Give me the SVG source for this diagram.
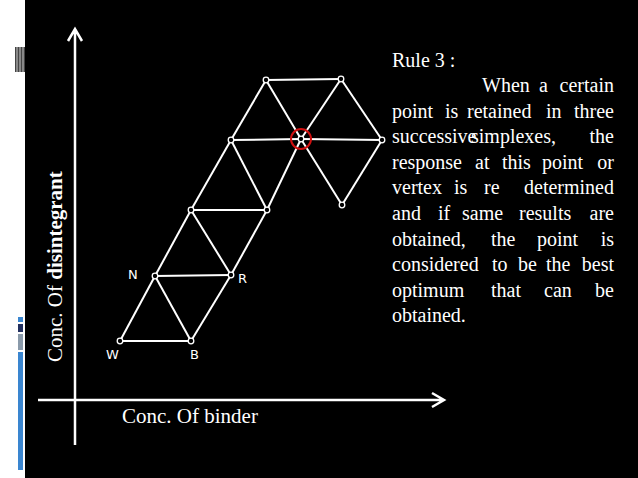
<svg xmlns="http://www.w3.org/2000/svg" width="638" height="478" viewBox="0 0 638 478">
<style>
.ax{stroke:#fff;stroke-width:2.5;fill:none}
.e{stroke:#fff;stroke-width:2}
.v{fill:#000;stroke:#fff;stroke-width:1.3}
.lb{font-family:"DejaVu Sans",sans-serif;font-size:13px;fill:#fff}
.t{font-family:"Liberation Serif",serif;font-size:20px;fill:#fff}
.r{text-anchor:end}
</style>
<rect width="638" height="478" fill="#000"/>
<rect width="25" height="478" fill="#fff"/>
<g id="deco">
<rect x="15" y="47" width="10" height="25" fill="#444"/>
<line x1="17" y1="47" x2="17" y2="72" stroke="#ccc"/><line x1="20" y1="47" x2="20" y2="72" stroke="#ccc"/><line x1="23" y1="47" x2="23" y2="72" stroke="#ccc"/>
<rect x="18" y="317" width="5" height="5" fill="#3a86d0"/>
<rect x="18" y="324" width="5" height="8" fill="#223060"/>
<rect x="18" y="334" width="5" height="16" fill="#8a9aaa"/>
<rect x="18" y="352" width="5" height="118" fill="#3a86d0"/>
</g>
<g id="axes">
<path class="ax" d="M75 445V30M68 41L75 29L82 41"/>
<path class="ax" d="M38 400H443M432 393L444 400L432 407"/>
</g>
<g id="connectors">
<g class="e">
<line x1="120" y1="341" x2="191" y2="341"/><line x1="120" y1="341" x2="155" y2="276"/><line x1="191" y1="341" x2="155" y2="276"/>
<line x1="191" y1="341" x2="231" y2="275"/><line x1="155" y1="276" x2="231" y2="275"/>
<line x1="155" y1="276" x2="191" y2="210"/><line x1="231" y1="275" x2="191" y2="210"/><line x1="231" y1="275" x2="267" y2="210"/>
<line x1="191" y1="210" x2="267" y2="210"/><line x1="191" y1="210" x2="231" y2="140"/><line x1="267" y1="210" x2="231" y2="140"/>
<line x1="267" y1="210" x2="301" y2="139"/><line x1="231" y1="140" x2="301" y2="139"/>
<line x1="231" y1="140" x2="266" y2="80"/><line x1="266" y1="80" x2="301" y2="139"/><line x1="266" y1="80" x2="341" y2="79"/>
<line x1="341" y1="79" x2="301" y2="139"/><line x1="341" y1="79" x2="382" y2="140"/><line x1="301" y1="139" x2="382" y2="140"/>
<line x1="301" y1="139" x2="342" y2="205"/><line x1="382" y1="140" x2="342" y2="205"/>
</g>
</g>
<g id="nodes">
<circle class="v" cx="120" cy="341" r="2.8"/><circle class="v" cx="191" cy="341" r="2.8"/>
<circle class="v" cx="155" cy="276" r="2.8"/><circle class="v" cx="231" cy="275" r="2.8"/>
<circle class="v" cx="191" cy="210" r="2.8"/><circle class="v" cx="267" cy="210" r="2.8"/>
<circle class="v" cx="231" cy="140" r="2.8"/><circle class="v" cx="301" cy="139" r="2.8"/>
<circle class="v" cx="266" cy="80" r="2.8"/><circle class="v" cx="341" cy="79" r="2.8"/>
<circle class="v" cx="382" cy="140" r="2.8"/><circle class="v" cx="342" cy="205" r="2.8"/>
<circle cx="301" cy="139" r="10" fill="none" stroke="#d01010" stroke-width="2"/>
</g>
<g id="labels">
<text class="lb" x="106" y="359">W</text>
<text class="lb" x="190" y="359">B</text>
<text class="lb" x="128" y="279">N</text>
<text class="lb" x="238" y="283">R</text>
<text x="62" y="362" transform="rotate(-90 62 362)" font-family="Liberation Serif,serif" font-size="21" fill="#fff">Conc. Of <tspan font-weight="bold">disintegrant</tspan></text>
<text x="122" y="423" font-family="Liberation Serif,serif" font-size="21" fill="#fff">Conc. Of binder</text>
</g>
<g id="rule" class="t">
<text class="t" x="392" y="67">Rule 3 :</text>
<text class="t" x="482" y="92">When</text><text class="t" x="539" y="92">a</text><text class="t r" x="614" y="92">certain</text>
<text class="t" x="392" y="118">point</text><text class="t" x="445" y="118">is</text><text class="t" x="467" y="118">retained</text><text class="t" x="546" y="118">in</text><text class="t r" x="614" y="118">three</text>
<text class="t" x="392" y="143">successive</text><text class="t" x="471" y="143">simplexes,</text><text class="t r" x="614" y="143">the</text>
<text class="t" x="392" y="169">response</text><text class="t" x="475" y="169">at</text><text class="t" x="502" y="169">this</text><text class="t" x="542" y="169">point</text><text class="t r" x="614" y="169">or</text>
<text class="t" x="392" y="194">vertex</text><text class="t" x="454" y="194">is</text><text class="t" x="484" y="194">re</text><text class="t r" x="614" y="194">determined</text>
<text class="t" x="392" y="220">and</text><text class="t" x="438" y="220">if</text><text class="t" x="462" y="220">same</text><text class="t" x="519" y="220">results</text><text class="t r" x="614" y="220">are</text>
<text class="t" x="392" y="246">obtained,</text><text class="t" x="491" y="246">the</text><text class="t" x="537" y="246">point</text><text class="t r" x="614" y="246">is</text>
<text class="t" x="392" y="271">considered</text><text class="t" x="492" y="271">to</text><text class="t" x="518" y="271">be</text><text class="t" x="546" y="271">the</text><text class="t r" x="614" y="271">best</text>
<text class="t" x="392" y="297">optimum</text><text class="t" x="491" y="297">that</text><text class="t" x="544" y="297">can</text><text class="t r" x="614" y="297">be</text>
<text class="t" x="392" y="322">obtained.</text>
</g>
</svg>
